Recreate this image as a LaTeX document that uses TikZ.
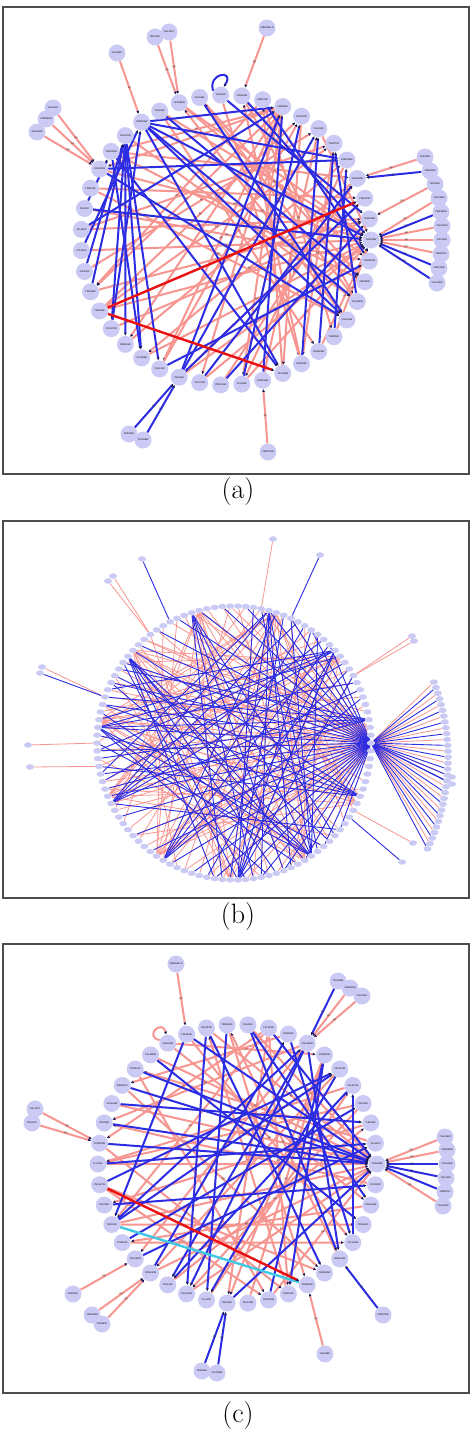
\documentclass[tikz,border=0pt]{standalone}
\usepackage{fontspec}
\usepackage{tikz}
\usetikzlibrary{arrows.meta,backgrounds,shapes.geometric}
\newfontfamily\genefont{Liberation Sans}
\definecolor{ppi}{RGB}{247,150,145}
\definecolor{pdi}{RGB}{44,44,226}
\definecolor{hit}{RGB}{232,16,16}
\definecolor{alt}{RGB}{64,200,228}
\definecolor{genefill}{RGB}{202,202,244}
\definecolor{tipc}{RGB}{22,22,90}

\begin{document}
\begin{tikzpicture}[x=1pt,y=-1pt,
gene/.style={circle,fill=genefill,minimum size=17pt,inner sep=0pt,font=\genefont\fontsize{2.4}{3}\selectfont},
dot/.style={ellipse,fill=genefill,minimum width=8pt,minimum height=5.5pt,inner sep=0pt},
pp/.style={ppi,line width=2pt,-{Latex[length=3pt,width=3pt,color=tipc]}},
pd/.style={pdi,line width=2pt,-{Latex[length=3pt,width=3pt,color=tipc]}},
hitline/.style={hit,line width=2.4pt,-{Latex[length=3pt,width=3pt,color=tipc]}},
altline/.style={alt,line width=2.4pt},
ppthin/.style={ppi,line width=0.8pt},
pdthin/.style={pdi,line width=0.9pt},
lbl/.style={font=\genefont\fontsize{2.8}{3}\selectfont,text=black!80,inner sep=0pt},
panel/.style={draw=black!70,line width=1.3pt},
capt/.style={font=\fontsize{28}{32}\selectfont}
]
\useasboundingbox (0,0) rectangle (474,1436);

% (a)
\foreach \g [count=\i from 0] in {YLR443W,YGR035W,YML007W,YDR158W,YMR058W,YDR270C,YGL032C,YNL027W,YMR034C,YMR074C,YNL112W,YNL251C,YGL035C,YPR025W,YNL006C,YOR050W,YKL107W,YDR238W,YOL030W,YDR610C,YIL110C,YKL184C,YCL000C,YDL420C,YPR034C,YNR005C,YKL227W,YMR183C,YLL028W,YGL101C,YNL049C,YPL079W,YDR011W,YFL022C,YOR144W,YKL199W,YNR004C,YDR461W,YNR006C,YGL114W,YGL099W,YMR196C,YDR333W}
  \node[gene] (a\i) at ({226+145*cos(\i*8.372093)},{240-145*sin(\i*8.372093)}) {\g};
\node[gene] (aygl013c) at (53,108) {YGL013C};
\node[gene] (aymr042w) at (46,119) {YMR042W};
\node[gene] (ayml059w) at (37,132) {YML059W};
\node[gene] (aybl021c) at (155,37) {YBL021C};
\node[gene] (aygl237c) at (169,32) {YGL237C};
\node[gene] (aygl008c) at (117,53) {YGL008C};
\node[gene] (aybr058c) at (267,28) {YBR058C-A};
\node[gene] (aydr162c) at (425,157) {YDR162C};
\node[gene] (aynr069w) at (430,171) {YNR069W};
\node[gene] (aydr251c) at (435,184) {YDR251C};
\node[gene] (aygl139w) at (439,198) {YGL139W};
\node[gene] (aymr138w) at (441,212) {YMR138W};
\node[gene] (aygl105w) at (442,226) {YGL105W};
\node[gene] (aynl113c) at (442,240) {YNL113C};
\node[gene] (aymr079c) at (441,254) {YMR079C};
\node[gene] (aygr275w) at (439,268) {YGR275W};
\node[gene] (aygl022w) at (437,283) {YGL022W};
\node[gene] (aydr146c) at (129,434) {YDR146C};
\node[gene] (aycl055w) at (143,440) {YCL055W};
\node[gene] (aymr175w) at (268,452) {YMR175W};

\begin{scope}[on background layer]
\foreach \s/\t in {8/17,8/18,8/24,8/27,8/29,8/31,8/33,18/0,21/1,22/0,25/0,28/0,30/0,31/0,33/0,37/0,38/0,14/0,13/0,12/41,10/40,6/0,13/42,25/5,25/7,14/37,23/6,26/1,9/24,17/3,19/2,16/40,11/36,20/42,27/4,24/1,29/7,32/3,34/6,35/9,36/10,39/13,40/12,17/41,19/39,2/30,4/33,5/36,7/35,3/28,9/38,21/5}
  \draw[pp] (a\s) -- node[lbl]{pp} (a\t);
\foreach \s/\t in {15/8,15/4,15/0,15/40,15/39,16/27,16/28,16/26,16/29,17/28,15/35,17/35,18/4,20/0,23/16,22/15,21/8,30/8,30/6,30/2,12/39,10/0,36/6,37/5,34/8,32/1,18/39,29/42,11/1,24/16,20/17,31/3,33/7,38/4,40/5,26/15,14/41,9/42}
  \draw[pd] (a\s) -- (a\t);
\draw[hitline] (a25) -- (a2);
\draw[hitline] (a25) -- (a35);
\draw[pd] (a11.150) .. controls +(-6,-18) and +(12,-18) .. (a11.70);
\foreach \n in {aygl013c,aymr042w,ayml059w}
  \draw[pp] (\n) -- node[lbl]{pp} (a18);
\foreach \n in {aybl021c,aygl237c}
  \draw[pp] (\n) -- node[lbl]{pp} (a13);
\draw[pp] (aygl008c) -- node[lbl]{pp} (a15);
\draw[pp] (aybr058c) -- node[lbl]{pp} (a10);
\draw[pp] (aydr162c) -- node[lbl]{pp} (a3);
\draw[pd] (aynr069w) -- node[lbl]{pp} (a3);
\draw[pp] (aydr251c) -- node[lbl]{pp} (a1);
\foreach \n in {aygl139w,aygl105w,aynl113c,aymr079c}
  \draw[pp] (\n) -- node[lbl]{pp} (a0);
\foreach \n in {aymr138w,aygr275w,aygl022w}
  \draw[pd] (\n) -- node[lbl]{pp} (a0);
\foreach \n in {aydr146c,aycl055w}
  \draw[pd] (\n) -- node[lbl]{pp} (a30);
\draw[pp] (aymr175w) -- node[lbl]{pp} (a34);
\end{scope}
\draw[panel] (3,7) rectangle (469,474);
\node[capt] (capa) at (238,492) {(a)};

% (b)
\foreach \i in {0,...,109}
  \node[dot] (b\i) at ({234+137*cos(\i*3.272727)},{743-137*sin(\i*3.272727)}) {};
\foreach \i in {0,...,29}
  \node[dot] (f\i) at ({236+212*cos(21-\i*1.6)},{758-212*sin(21-\i*1.6)}) {};
\node[dot] (bo1) at (273,539) {};
\node[dot] (bo2) at (320,555) {};
\node[dot] (bo3) at (142,559) {};
\node[dot] (bo4) at (113,576) {};
\node[dot] (bo5) at (108,581) {};
\node[dot] (bo6) at (42,667) {};
\node[dot] (bo7) at (40,673) {};
\node[dot] (bo8) at (28,745) {};
\node[dot] (bo9) at (30,767) {};
\node[dot] (bo10) at (412,636) {};
\node[dot] (bo11) at (414,641) {};
\node[dot] (bo12) at (452,777) {};
\node[dot] (bo13) at (452,784) {};
\node[dot] (bo14) at (413,843) {};
\node[dot] (bo15) at (402,862) {};

\begin{scope}[on background layer]
\foreach \k in {1,...,90} {
  \pgfmathtruncatemacro\p{mod(\k*29+2,110)}
  \pgfmathtruncatemacro\q{mod(\k*29+32+mod(\k*41,50),110)}
  \draw[ppthin] (b\p) -- (b\q);
}
\foreach \k in {20,24,...,92}
  \draw[ppthin] (b\k) -- (b0);
\foreach \i in {0,2,...,28}
  \draw[ppthin] (f\i) -- (b0);
\foreach \k in {1,...,60} {
  \pgfmathtruncatemacro\p{mod(\k*37+5,110)}
  \pgfmathtruncatemacro\q{mod(\k*37+43+mod(\k*23,40),110)}
  \draw[pdthin] (b\p) -- (b\q);
}
\foreach \k in {14,17,...,98}
  \draw[pdthin] (b0) -- (b\k);
\foreach \i in {1,3,...,29}
  \draw[pdthin] (f\i) -- (b0);
\draw[ppthin] (bo1) -- (b24);
\draw[pdthin] (bo2) -- (b20);
\draw[pdthin] (bo3) -- (b36);
\draw[ppthin] (bo4) -- (b39);
\draw[ppthin] (bo5) -- (b39);
\draw[ppthin] (bo6) -- (b49);
\draw[pdthin] (bo7) -- (b49);
\draw[ppthin] (bo8) -- (b55);
\draw[ppthin] (bo9) -- (b58);
\draw[ppthin] (bo10) -- (b9);
\draw[ppthin] (bo11) -- (b9);
\draw[pdthin] (bo12) -- (b0);
\draw[pdthin] (bo13) -- (b0);
\draw[ppthin] (bo14) -- (b101);
\draw[pdthin] (bo15) -- (b100);
\end{scope}
\draw[panel] (3,521) rectangle (469,898);
\node[capt] (capb) at (238,916) {(b)};

% (c)
\foreach \g [count=\i from 0] in {YLR443W,YKL110C,YJR140C,YGL032C,YKL027W,YKL107W,YDR210W,YGL050W,YOR050C,YKL110W,YNL251C,YMR034C,YNL027W,YNL112W,YNL251W,YGL098W,YPR074C,YMR106C,YGL114W,YNL069C,YPR025W,YLL031C,YNL307W,YGL005C,YOL103C,YPR034C,YGL015W,YOR130W,YRL104C,YGL030W,YLL101C,YNL049C,YFL079W,YDR011W,YOR221C,YDR063W,YMR034W,YDR144W,YKL109W,YDR160C,YDR461W,YKR004C}
  \node[gene] (c\i) at ({237.5+139.5*cos(\i*8.571429)},{1164-139.5*sin(\i*8.571429)}) {\g};
\node[gene] (cybr058c) at (176,964) {YBR058C-A};
\node[gene] (cynl005w) at (338,981) {YNL005W};
\node[gene] (cymr042w) at (350,988) {YMR042W};
\node[gene] (cygl013c) at (362,996) {YGL013C};
\node[gene] (cygl237c) at (35,1109) {YGL237C};
\node[gene] (cybl021c) at (32,1123) {YBL021C};
\node[gene] (cygl139w) at (445,1137) {YGL139W};
\node[gene] (cymr138w) at (447,1150) {YMR138W};
\node[gene] (cygl105w) at (447,1164) {YGL105W};
\node[gene] (cynl113c) at (446,1178) {YNL113C};
\node[gene] (cymr079c) at (445,1192) {YMR079C};
\node[gene] (cygl022w) at (443,1206) {YGL022W};
\node[gene] (cydr251c) at (73,1294) {YDR251C};
\node[gene] (cydr369w) at (92,1315) {YDR369W};
\node[gene] (cydr162c) at (102,1324) {YDR162C};
\node[gene] (cydr146c) at (202,1371) {YDR146C};
\node[gene] (cycl055w) at (217,1373) {YCL055W};
\node[gene] (cyol069c) at (325,1354) {YOL069C};
\node[gene] (cymr175w) at (383,1315) {YMR175W};

\begin{scope}[on background layer]
\foreach \s/\t in {15/0,18/0,21/0,24/0,27/0,29/0,33/0,10/0,12/0,9/20,9/24,9/31,9/34,7/19,7/26,14/40,14/6,22/36,22/33,24/39,25/38,21/3,16/33,30/4,32/6,28/2,34/12,37/11,8/17,5/27,3/29,2/23,1/16,41/19,40/25,6/31,4/21,11/35,13/38,17/36,20/34}
  \draw[pp] (c\s) -- node[lbl]{pp} (c\t);
\foreach \s/\t in {13/24,13/0,11/30,12/29,10/37,9/0,8/38,7/28,7/29,24/7,17/0,19/0,20/0,22/5,23/41,24/5,16/0,26/1,4/28,5/30,31/0,38/4,7/37,33/6,27/8,18/2,15/39,12/36,10/40,21/1,25/3,6/34}
  \draw[pd] (c\s) -- (c\t);
\draw[altline] (c24) -- (c35);
\draw[hitline] (c22) -- (c35);
\draw[pp] (c14.160) .. controls +(-16,-4) and +(-4,-16) .. (c14.100);
\draw[pp] (cybr058c) -- node[lbl]{pp} (c13);
\draw[pd] (cynl005w) -- node[lbl]{pp} (c7);
\draw[pp] (cymr042w) -- node[lbl]{pp} (c7);
\draw[pp] (cygl013c) -- node[lbl]{pp} (c7);
\foreach \n in {cygl237c,cybl021c}
  \draw[pp] (\n) -- node[lbl]{pp} (c20);
\foreach \n in {cygl139w,cymr138w,cygl022w}
  \draw[pp] (\n) -- node[lbl]{pp} (c0);
\foreach \n in {cygl105w,cynl113c,cymr079c}
  \draw[pd] (\n) -- node[lbl]{pp} (c0);
\draw[pp] (cydr251c) -- node[lbl]{pp} (c26);
\foreach \n in {cydr369w,cydr162c}
  \draw[pp] (\n) -- node[lbl]{pp} (c27);
\foreach \n in {cydr146c,cycl055w}
  \draw[pd] (\n) -- node[lbl]{pp} (c31);
\draw[pp] (cyol069c) -- node[lbl]{pp} (c35);
\draw[pd] (cymr175w) -- node[lbl]{pp} (c37);
\end{scope}
\draw[panel] (3,944) rectangle (469,1393);
\node[capt] (capc) at (238,1415) {(c)};
\end{tikzpicture}
\end{document}
